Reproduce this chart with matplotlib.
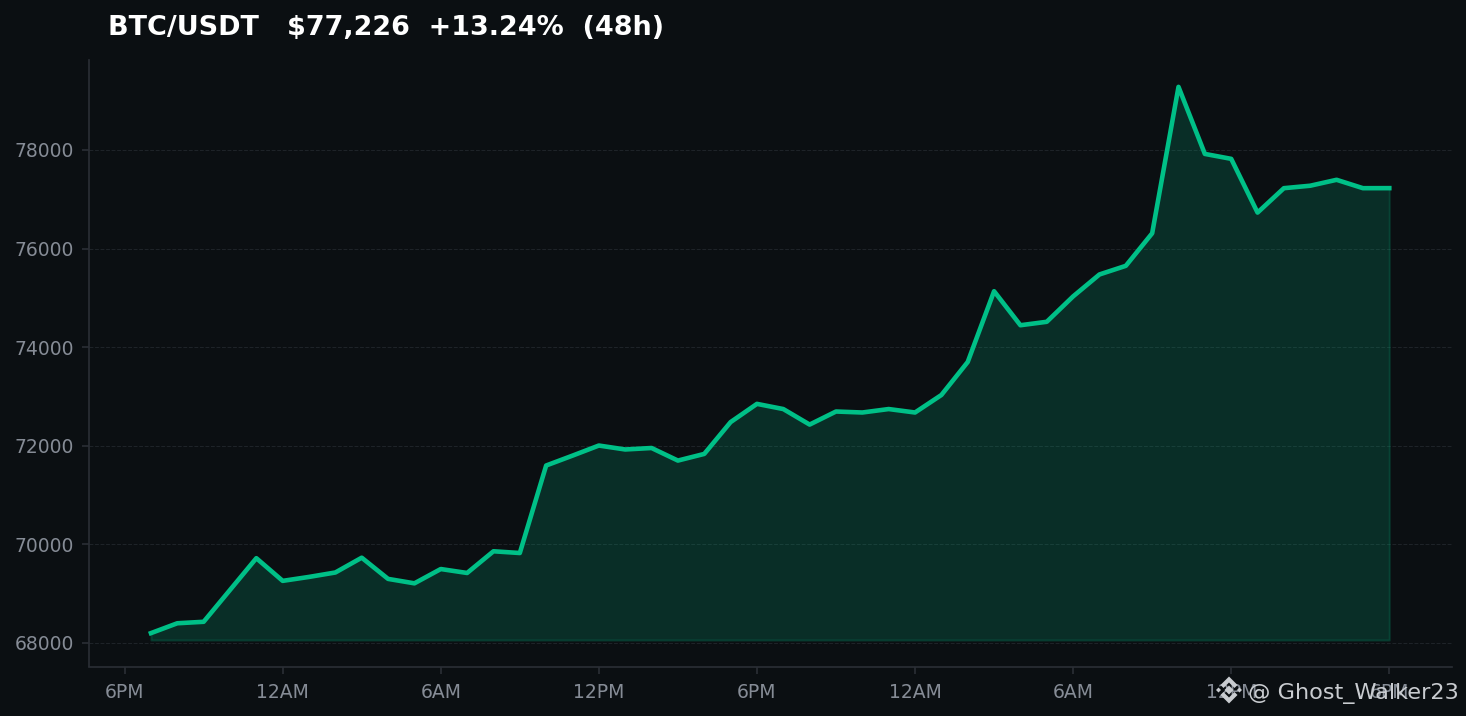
from matplotlib import pyplot as plt
from matplotlib.patches import Polygon
from matplotlib.transforms import Affine2D
import numpy as np

BG = '#0b0f12'
GREEN = '#00c087'
MUTED = '#868c96'
SPINE = '#2b2f36'

hours = list(range(1, 49))
prices = [68200, 68400, 68430, 69075, 69720, 69260, 69340, 69430, 69730, 69300,
	69210, 69500, 69420, 69860, 69825, 71600, 71800, 72005, 71925, 71955,
	71700, 71835, 72480, 72850, 72745, 72430, 72695, 72675, 72745, 72675,
	73030, 73700, 75135, 74445, 74515, 75030, 75475, 75650, 76310, 79280,
	77920, 77820, 76730, 77225, 77275, 77395, 77225, 77226]
tick_hours = [0, 6, 12, 18, 24, 30, 36, 42, 48]
tick_labels = ['6PM', '12AM', '6AM', '12PM', '6PM', '12AM', '6AM', '12PM', '6PM']
y_ticks = [68000, 70000, 72000, 74000, 76000, 78000]
fill_base = 68060
title = 'BTC/USDT   $77,226  +13.24%  (48h)'
watermark = '@ Ghost_Walker23'

W, H = 1466, 716
DPI = 150
fig = plt.figure(figsize=(W / DPI, H / DPI), dpi=DPI, facecolor=BG)
ax = fig.add_axes([88.5 / W, 1 - 666.5 / H, (1452 - 88.5) / W, (666.5 - 60) / H])
ax.set_facecolor(BG)

ax.fill_between(hours, prices, fill_base, color=GREEN, alpha=0.18, linewidth=1)
ax.plot(hours, prices, color=GREEN, linewidth=2.2, solid_capstyle='projecting')

ax.set_xlim(-1.37, 50.38)
ax.set_ylim(67523, 79825)
ax.set_xticks(tick_hours)
ax.set_xticklabels(tick_labels)
ax.set_yticks(y_ticks)
ax.tick_params(colors=MUTED, labelsize=9, length=3.5, width=0.8, color=SPINE)
ax.tick_params(axis='x', pad=4.5)
ax.grid(axis='y', color='#1e2328', linewidth=0.5, linestyle='--')
ax.set_axisbelow(True)
for s in ['top', 'right']:
	ax.spines[s].set_visible(False)
for s in ['left', 'bottom']:
	ax.spines[s].set_color(SPINE)
	ax.spines[s].set_linewidth(0.8)

fig.text(108 / W, 1 - 35 / H, title, color='white', fontsize=12.98, fontweight='bold')

# watermark sits on top of the last tick labels, positioned in pixels from top left
to_px = Affine2D().scale(1, -1).translate(0, H)
mark_color = '#c9ccd0'
cx, cy = 1229, 690
shapes = [
	[(0, -4.5), (4.5, 0), (0, 4.5), (-4.5, 0)],
	[(-10.5, -2.5), (-8, 0), (-10.5, 2.5), (-13, 0)],
	[(10.5, -2.5), (13, 0), (10.5, 2.5), (8, 0)],
	[(0, -13.5), (8.5, -5), (5.5, -2), (0, -7.5), (-5.5, -2), (-8.5, -5)],
	[(0, 13.5), (8.5, 5), (5.5, 2), (0, 7.5), (-5.5, 2), (-8.5, 5)],
]
for pts in shapes:
	xy = [(cx + px, cy + py) for px, py in pts]
	fig.add_artist(Polygon(xy, closed=True, transform=to_px, facecolor=mark_color, edgecolor='none'))
fig.text(1248 / W, 1 - 699 / H, watermark, color=mark_color, fontsize=10.75)

plt.savefig('out.png', dpi=DPI, facecolor=BG)
plt.close()
